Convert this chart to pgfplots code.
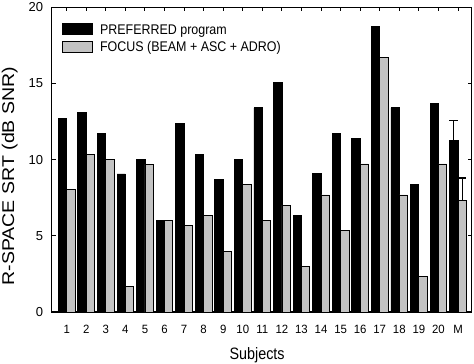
\documentclass[border=0pt]{standalone}
\usepackage{fontspec}
\setmainfont{Liberation Sans}
\newfontfamily\xtfont{Liberation Sans}[FakeStretch=0.95]
\newfontfamily\legfont{Liberation Sans}[FakeStretch=0.89]
\newfontfamily\xlfont{Liberation Sans}[FakeStretch=0.87]
\newfontfamily\ylfont{Liberation Sans}[FakeStretch=1.15]
\usepackage{pgfplots}
\pgfplotsset{compat=1.18}
\definecolor{barGray}{RGB}{195,195,195}
\begin{document}
\begin{tikzpicture}
\begin{axis}[
  scale only axis,
  width=420pt, height=304.7pt,
  xmin=0.234, xmax=21.70,
  ymin=0, ymax=20,
  ytick={0,5,10,15,20},
  xtick={1,...,21},
  xticklabels={1,2,3,4,5,6,7,8,9,10,11,12,13,14,15,16,17,18,19,20,M},
  /pgf/number format/assume math mode=true,
  tick align=inside,
  major tick length=4pt,
  tick style={black, line width=1pt},
  axis line style={black, line width=1.4pt},
  xtick pos=both, ytick pos=both,
  xticklabel pos=lower, yticklabel pos=left,
  xticklabel style={font=\xtfont\fontsize{12}{12}\selectfont, anchor=base, inner sep=0pt, yshift=-21pt},
  yticklabel style={font=\fontsize{13}{13}\selectfont, anchor=east, inner sep=0pt, xshift=-8.4pt},
  xlabel={Subjects},
  xlabel style={font=\xlfont\fontsize{16.5}{16.5}\selectfont, at={(axis description cs:0.489,-0.1575)}, anchor=base, inner sep=0pt},
  ylabel={R-SPACE SRT (dB SNR)},
  ylabel style={font=\ylfont\fontsize{17}{17}\selectfont, at={(axis description cs:-0.1,0.446)}, anchor=center, inner sep=0pt},
  legend style={at={(0.0238,0.9475)}, anchor=north west, draw=none, fill=none,
    inner sep=0pt, outer sep=0pt, row sep=5.7pt, column sep=7.6pt,
    font=\legfont\fontsize{14}{14}\selectfont,
    nodes={inner sep=0pt, text height=10pt, text depth=0pt},
    cells={anchor=west}},
  legend image code/.code={\draw[#1] (0pt,-5.5pt) rectangle (30pt,5.5pt);},
]
\addplot[ybar, bar width=0.427, bar shift=-0.2135, fill=black, draw=black, line width=0.8pt]
coordinates {(1,12.7) (2,13.07) (3,11.7) (4,9.06) (5,10.02) (6,6.0) (7,12.4) (8,10.35) (9,8.7) (10,10.0)
 (11,13.4) (12,15.05) (13,6.34) (14,9.08) (15,11.7) (16,11.42) (17,18.72) (18,13.4) (19,8.38) (20,13.7) (21,11.28)};
\addlegendentry{PREFERRED program}
\addplot[ybar, bar width=0.427, bar shift=0.2135, fill=barGray, draw=black, line width=0.8pt]
coordinates {(1,8.03) (2,10.35) (3,10.02) (4,1.67) (5,9.69) (6,6.0) (7,5.66) (8,6.32) (9,4.0) (10,8.37)
 (11,6.0) (12,7.0) (13,3.0) (14,7.68) (15,5.37) (16,9.72) (17,16.7) (18,7.68) (19,2.32) (20,9.72) (21,7.3)};
\addlegendentry{FOCUS (BEAM + ASC + ADRO)}
% error bar of M, PREFERRED
\addplot[black, line width=1.2pt, forget plot] coordinates {(20.7865,11.28) (20.7865,12.55)};
\addplot[black, line width=1.2pt, forget plot] coordinates {(20.56,12.55) (21.01,12.55)};
% error bar of M, FOCUS
\addplot[black, line width=1.2pt, forget plot] coordinates {(21.2135,7.3) (21.2135,8.8)};
\addplot[black, line width=1.2pt, forget plot] coordinates {(21.01,8.8) (21.42,8.8)};
\end{axis}
\pgfresetboundingbox
\path[use as bounding box] (-51.7pt,-52pt) rectangle (422.3pt,312pt);
\end{tikzpicture}
\end{document}
